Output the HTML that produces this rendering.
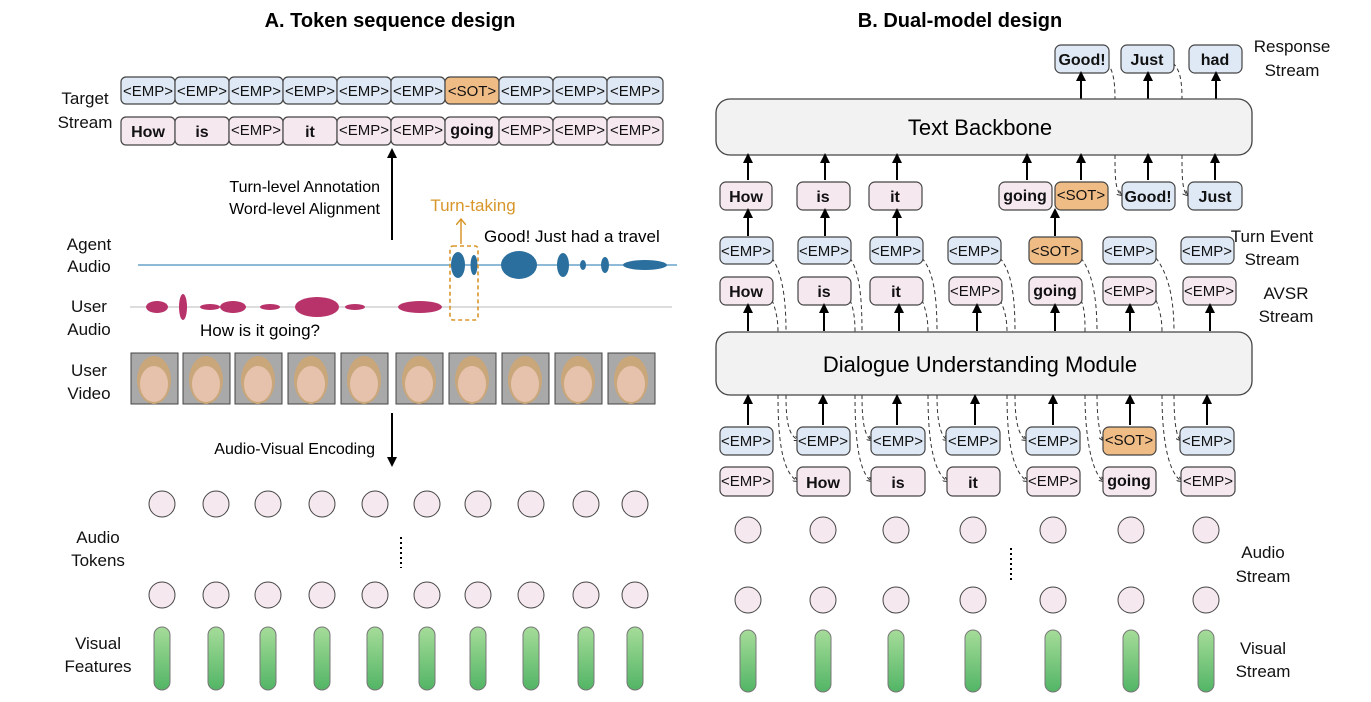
<!DOCTYPE html>
<html><head><meta charset="utf-8"><style>
html,body{margin:0;padding:0;background:#fff}
svg{display:block;font-family:"Liberation Sans",Arial,sans-serif}
.b{fill:#dfe9f5;stroke:#444;stroke-width:1.2}
.p{fill:#f6e8ef;stroke:#444;stroke-width:1.2}
.o{fill:#f0bc86;stroke:#444;stroke-width:1.2}
.t{font-size:15px;text-anchor:middle;fill:#111}
.tb{font-size:16px;font-weight:bold;text-anchor:middle;fill:#111}
.l{font-size:17px;fill:#111;text-anchor:middle}
.c{fill:#f6e8ef;stroke:#444;stroke-width:1}
.g{fill:url(#gr);stroke:#777;stroke-width:1}
.d{fill:none;stroke:#333;stroke-width:1;stroke-dasharray:4 3}
.a{stroke:#000;stroke-width:2;marker-end:url(#ar)}
.h{fill:#c9a77a}
.f{fill:#e6c2ad}
</style></head><body>
<svg width="1371" height="702" viewBox="0 0 1371 702">
<defs>
<marker id="ar" markerWidth="10" markerHeight="10" refX="5" refY="5" orient="auto" markerUnits="userSpaceOnUse" viewBox="0 0 10 10"><path d="M0,0 L10,5 L0,10z" fill="#000"/></marker>
<marker id="sa" markerWidth="5" markerHeight="5" refX="4" refY="2.5" orient="auto" markerUnits="userSpaceOnUse"><path d="M0,0 L5,2.5 L0,5" fill="none" stroke="#333"/></marker>
<marker id="oa" markerWidth="10" markerHeight="10" refX="5" refY="5" orient="auto" markerUnits="userSpaceOnUse"><path d="M0,0 L6,5 L0,10" fill="none" stroke="#d8962a" stroke-width="1.5"/></marker>
<linearGradient id="gr" x1="0" y1="0" x2="0" y2="1"><stop offset="0" stop-color="#a6dc9a"/><stop offset="1" stop-color="#52b565"/></linearGradient>
</defs>

<text x="390" y="27" font-size="20" font-weight="bold" text-anchor="middle">A. Token sequence design</text>
<text x="960" y="27" font-size="20" font-weight="bold" text-anchor="middle">B. Dual-model design</text>

<text x="85" y="104" class="l">Target</text><text x="85" y="128" class="l">Stream</text>
<g>
<rect x="121" y="77" width="54" height="27" rx="5" class="b"/><text x="148" y="96" class="t">&lt;EMP&gt;</text>
<rect x="175" y="77" width="54" height="27" rx="5" class="b"/><text x="202" y="96" class="t">&lt;EMP&gt;</text>
<rect x="229" y="77" width="54" height="27" rx="5" class="b"/><text x="256" y="96" class="t">&lt;EMP&gt;</text>
<rect x="283" y="77" width="54" height="27" rx="5" class="b"/><text x="310" y="96" class="t">&lt;EMP&gt;</text>
<rect x="337" y="77" width="54" height="27" rx="5" class="b"/><text x="364" y="96" class="t">&lt;EMP&gt;</text>
<rect x="391" y="77" width="54" height="27" rx="5" class="b"/><text x="418" y="96" class="t">&lt;EMP&gt;</text>
<rect x="445" y="77" width="54" height="27" rx="5" class="o"/><text x="472" y="96" class="t">&lt;SOT&gt;</text>
<rect x="499" y="77" width="54" height="27" rx="5" class="b"/><text x="526" y="96" class="t">&lt;EMP&gt;</text>
<rect x="553" y="77" width="54" height="27" rx="5" class="b"/><text x="580" y="96" class="t">&lt;EMP&gt;</text>
<rect x="607" y="77" width="56" height="27" rx="5" class="b"/><text x="635" y="96" class="t">&lt;EMP&gt;</text>

<rect x="121" y="117" width="54" height="28" rx="5" class="p"/><text x="148" y="137" class="tb">How</text>
<rect x="175" y="117" width="54" height="28" rx="5" class="p"/><text x="202" y="137" class="tb">is</text>
<rect x="229" y="117" width="54" height="28" rx="5" class="p"/><text x="256" y="135" class="t">&lt;EMP&gt;</text>
<rect x="283" y="117" width="54" height="28" rx="5" class="p"/><text x="310" y="137" class="tb">it</text>
<rect x="337" y="117" width="54" height="28" rx="5" class="p"/><text x="364" y="135" class="t">&lt;EMP&gt;</text>
<rect x="391" y="117" width="54" height="28" rx="5" class="p"/><text x="418" y="135" class="t">&lt;EMP&gt;</text>
<rect x="445" y="117" width="54" height="28" rx="5" class="p"/><text x="472" y="135" class="tb">going</text>
<rect x="499" y="117" width="54" height="28" rx="5" class="p"/><text x="526" y="135" class="t">&lt;EMP&gt;</text>
<rect x="553" y="117" width="54" height="28" rx="5" class="p"/><text x="580" y="135" class="t">&lt;EMP&gt;</text>
<rect x="607" y="117" width="56" height="28" rx="5" class="p"/><text x="635" y="135" class="t">&lt;EMP&gt;</text>
</g>
<line x1="392" y1="240" x2="392" y2="153" class="a"/>
<text x="380" y="192" font-size="16" text-anchor="end">Turn-level Annotation</text>
<text x="380" y="214" font-size="16" text-anchor="end">Word-level Alignment</text>
<text x="473" y="211" font-size="17" fill="#d8962a" text-anchor="middle">Turn-taking</text>
<line x1="461" y1="244" x2="461" y2="220" stroke="#d8962a" stroke-width="1.5" marker-end="url(#oa)"/>
<text x="484" y="242" font-size="17">Good! Just had a travel</text>

<text x="89" y="250" class="l">Agent</text><text x="89" y="272" class="l">Audio</text>
<text x="89" y="312" class="l">User</text><text x="89" y="335" class="l">Audio</text>
<line x1="138" y1="265" x2="677" y2="265" stroke="#4a90c0" stroke-width="1.2"/>
<g fill="#2a6f9e">
<ellipse cx="458" cy="265" rx="7" ry="13"/><ellipse cx="474" cy="265" rx="3.5" ry="10"/>
<ellipse cx="519" cy="265" rx="18" ry="14"/><ellipse cx="563" cy="265" rx="6" ry="12"/>
<ellipse cx="583" cy="265" rx="3" ry="5"/><ellipse cx="605" cy="265" rx="4" ry="8"/>
<ellipse cx="645" cy="265" rx="22" ry="5"/></g>
<line x1="130" y1="307" x2="672" y2="307" stroke="#bbb" stroke-width="1"/>
<g fill="#b8336a">
<ellipse cx="157" cy="307" rx="11" ry="6"/><ellipse cx="183" cy="307" rx="4" ry="13"/>
<ellipse cx="210" cy="307" rx="10" ry="3"/><ellipse cx="233" cy="307" rx="13" ry="6"/>
<ellipse cx="270" cy="307" rx="10" ry="3"/><ellipse cx="317" cy="307" rx="22" ry="10"/>
<ellipse cx="355" cy="307" rx="10" ry="3"/><ellipse cx="420" cy="307" rx="22" ry="6"/></g>
<rect x="450" y="246" width="28" height="74" fill="none" stroke="#d8962a" stroke-width="1.6" stroke-dasharray="4 3" rx="3"/>
<text x="200" y="336" font-size="17">How is it going?</text>

<text x="89" y="376" class="l">User</text><text x="89" y="399" class="l">Video</text>
<g stroke="#444">
<rect x="131" y="353" width="47" height="51" fill="#a9a9a9"/><rect x="183" y="353" width="47" height="51" fill="#a9a9a9"/><rect x="235" y="353" width="47" height="51" fill="#a9a9a9"/><rect x="288" y="353" width="47" height="51" fill="#a9a9a9"/><rect x="341" y="353" width="47" height="51" fill="#a9a9a9"/><rect x="396" y="353" width="47" height="51" fill="#a9a9a9"/><rect x="449" y="353" width="47" height="51" fill="#a9a9a9"/><rect x="502" y="353" width="47" height="51" fill="#a9a9a9"/><rect x="555" y="353" width="47" height="51" fill="#a9a9a9"/><rect x="608" y="353" width="47" height="51" fill="#a9a9a9"/>
</g>
<g>
<ellipse cx="154" cy="380" rx="17" ry="24" class="h"/><ellipse cx="154" cy="384" rx="14" ry="18" class="f"/>
<ellipse cx="206" cy="380" rx="17" ry="24" class="h"/><ellipse cx="206" cy="384" rx="14" ry="18" class="f"/>
<ellipse cx="258" cy="380" rx="17" ry="24" class="h"/><ellipse cx="258" cy="384" rx="14" ry="18" class="f"/>
<ellipse cx="311" cy="380" rx="17" ry="24" class="h"/><ellipse cx="311" cy="384" rx="14" ry="18" class="f"/>
<ellipse cx="364" cy="380" rx="17" ry="24" class="h"/><ellipse cx="364" cy="384" rx="14" ry="18" class="f"/>
<ellipse cx="419" cy="380" rx="17" ry="24" class="h"/><ellipse cx="419" cy="384" rx="14" ry="18" class="f"/>
<ellipse cx="472" cy="380" rx="17" ry="24" class="h"/><ellipse cx="472" cy="384" rx="14" ry="18" class="f"/>
<ellipse cx="525" cy="380" rx="17" ry="24" class="h"/><ellipse cx="525" cy="384" rx="14" ry="18" class="f"/>
<ellipse cx="578" cy="380" rx="17" ry="24" class="h"/><ellipse cx="578" cy="384" rx="14" ry="18" class="f"/>
<ellipse cx="631" cy="380" rx="17" ry="24" class="h"/><ellipse cx="631" cy="384" rx="14" ry="18" class="f"/>
</g>
<line x1="392" y1="413" x2="392" y2="462" class="a"/>
<text x="375" y="454" font-size="16" text-anchor="end">Audio-Visual Encoding</text>

<text x="98" y="543" class="l">Audio</text><text x="98" y="566" class="l">Tokens</text>
<text x="98" y="649" class="l">Visual</text><text x="98" y="672" class="l">Features</text>
<g>
<circle cx="162" cy="504" r="13" class="c"/><circle cx="216" cy="504" r="13" class="c"/><circle cx="268" cy="504" r="13" class="c"/><circle cx="322" cy="504" r="13" class="c"/><circle cx="375" cy="504" r="13" class="c"/><circle cx="427" cy="504" r="13" class="c"/><circle cx="478" cy="504" r="13" class="c"/><circle cx="531" cy="504" r="13" class="c"/><circle cx="586" cy="504" r="13" class="c"/><circle cx="635" cy="504" r="13" class="c"/>
<circle cx="162" cy="595" r="13" class="c"/><circle cx="216" cy="595" r="13" class="c"/><circle cx="268" cy="595" r="13" class="c"/><circle cx="322" cy="595" r="13" class="c"/><circle cx="375" cy="595" r="13" class="c"/><circle cx="427" cy="595" r="13" class="c"/><circle cx="478" cy="595" r="13" class="c"/><circle cx="531" cy="595" r="13" class="c"/><circle cx="586" cy="595" r="13" class="c"/><circle cx="635" cy="595" r="13" class="c"/>
<rect x="154" y="627" width="16" height="63" rx="8" class="g"/><rect x="208" y="627" width="16" height="63" rx="8" class="g"/><rect x="260" y="627" width="16" height="63" rx="8" class="g"/><rect x="314" y="627" width="16" height="63" rx="8" class="g"/><rect x="367" y="627" width="16" height="63" rx="8" class="g"/><rect x="419" y="627" width="16" height="63" rx="8" class="g"/><rect x="470" y="627" width="16" height="63" rx="8" class="g"/><rect x="523" y="627" width="16" height="63" rx="8" class="g"/><rect x="578" y="627" width="16" height="63" rx="8" class="g"/><rect x="627" y="627" width="16" height="63" rx="8" class="g"/>
</g>
<line x1="401" y1="537" x2="401" y2="568" stroke="#000" stroke-width="2" stroke-dasharray="2 3"/>

<text x="1292" y="52" class="l">Response</text><text x="1292" y="76" class="l">Stream</text>
<text x="1272" y="242" class="l">Turn Event</text><text x="1272" y="265" class="l">Stream</text>
<text x="1286" y="299" class="l">AVSR</text><text x="1286" y="322" class="l">Stream</text>
<text x="1263" y="558" class="l">Audio</text><text x="1263" y="582" class="l">Stream</text>
<text x="1263" y="654" class="l">Visual</text><text x="1263" y="677" class="l">Stream</text>

<g class="d">
<path d="M1107,63 C1113,70 1115,80 1115,100"/><path d="M1115,155 C1115,175 1115,190 1121,195" marker-end="url(#sa)"/>
<path d="M1173,63 C1180,70 1182,80 1182,100"/><path d="M1182,155 C1182,175 1182,190 1187,195" marker-end="url(#sa)"/>
<path d="M772,258 C780,270 786,290 786,332"/><path d="M786,395 C786,420 788,435 798,440" marker-end="url(#sa)"/>
<path d="M772,300 C776,310 778,320 778,332"/><path d="M778,395 C778,430 780,470 797,481" marker-end="url(#sa)"/>
<path d="M850,258 C858,270 862,290 862,332"/><path d="M862,395 C862,420 864,435 871,440" marker-end="url(#sa)"/>
<path d="M850,300 C854,310 855,320 855,332"/><path d="M855,395 C855,430 857,470 871,481" marker-end="url(#sa)"/>
<path d="M922,258 C932,270 937,290 937,332"/><path d="M937,395 C937,420 940,435 947,440" marker-end="url(#sa)"/>
<path d="M922,300 C926,310 928,320 928,332"/><path d="M928,395 C928,430 931,470 947,481" marker-end="url(#sa)"/>
<path d="M1000,258 C1010,270 1015,290 1015,332"/><path d="M1015,395 C1015,420 1018,435 1026,440" marker-end="url(#sa)"/>
<path d="M1000,300 C1005,310 1007,320 1007,332"/><path d="M1007,395 C1007,430 1010,470 1027,481" marker-end="url(#sa)"/>
<path d="M1081,258 C1090,270 1097,290 1097,332"/><path d="M1097,395 C1097,420 1100,435 1103,440" marker-end="url(#sa)"/>
<path d="M1081,300 C1085,310 1085,320 1085,332"/><path d="M1085,395 C1085,430 1090,470 1103,481" marker-end="url(#sa)"/>
<path d="M1156,258 C1165,270 1174,290 1174,332"/><path d="M1174,395 C1174,420 1176,435 1180,440" marker-end="url(#sa)"/>
<path d="M1156,300 C1160,310 1162,320 1162,332"/><path d="M1162,395 C1162,430 1166,470 1181,481" marker-end="url(#sa)"/>
</g>

<rect x="1055" y="45" width="54" height="28" rx="6" class="b"/><text x="1082" y="65" class="tb">Good!</text>
<rect x="1121" y="45" width="53" height="28" rx="6" class="b"/><text x="1147" y="65" class="tb">Just</text>
<rect x="1189" y="45" width="53" height="28" rx="6" class="b"/><text x="1215" y="65" class="tb">had</text>
<line x1="1081" y1="99" x2="1081" y2="76" class="a"/><line x1="1148" y1="99" x2="1148" y2="76" class="a"/><line x1="1216" y1="99" x2="1216" y2="76" class="a"/>

<rect x="716" y="99" width="536" height="56" rx="14" fill="#f2f2f2" stroke="#444" stroke-width="1.3"/>
<text x="980" y="135" font-size="22" text-anchor="middle">Text Backbone</text>

<g>
<rect x="720" y="182" width="52" height="28" rx="6" class="p"/><text x="746" y="202" class="tb">How</text>
<rect x="797" y="182" width="53" height="28" rx="6" class="p"/><text x="823" y="202" class="tb">is</text>
<rect x="869" y="182" width="53" height="28" rx="6" class="p"/><text x="895" y="202" class="tb">it</text>
<rect x="999" y="182" width="53" height="28" rx="6" class="p"/><text x="1025" y="201" class="tb">going</text>
<rect x="1055" y="182" width="53" height="28" rx="6" class="o"/><text x="1081" y="200" class="t">&lt;SOT&gt;</text>
<rect x="1122" y="182" width="53" height="28" rx="6" class="b"/><text x="1148" y="202" class="tb">Good!</text>
<rect x="1188" y="182" width="54" height="28" rx="6" class="b"/><text x="1215" y="202" class="tb">Just</text>
</g>
<line x1="748" y1="180" x2="748" y2="158" class="a"/><line x1="825" y1="180" x2="825" y2="158" class="a"/><line x1="897" y1="180" x2="897" y2="158" class="a"/><line x1="1027" y1="180" x2="1027" y2="158" class="a"/><line x1="1081" y1="180" x2="1081" y2="158" class="a"/><line x1="1148" y1="180" x2="1148" y2="158" class="a"/><line x1="1215" y1="180" x2="1215" y2="158" class="a"/>

<g>
<rect x="720" y="237" width="53" height="27" rx="6" class="b"/><text x="746" y="256" class="t">&lt;EMP&gt;</text>
<rect x="798" y="237" width="53" height="27" rx="6" class="b"/><text x="824" y="256" class="t">&lt;EMP&gt;</text>
<rect x="870" y="237" width="53" height="27" rx="6" class="b"/><text x="896" y="256" class="t">&lt;EMP&gt;</text>
<rect x="948" y="237" width="53" height="27" rx="6" class="b"/><text x="974" y="256" class="t">&lt;EMP&gt;</text>
<rect x="1029" y="237" width="53" height="27" rx="6" class="o"/><text x="1055" y="256" class="t">&lt;SOT&gt;</text>
<rect x="1103" y="237" width="53" height="27" rx="6" class="b"/><text x="1129" y="256" class="t">&lt;EMP&gt;</text>
<rect x="1181" y="237" width="53" height="27" rx="6" class="b"/><text x="1207" y="256" class="t">&lt;EMP&gt;</text>
</g>
<line x1="748" y1="236" x2="748" y2="213" class="a"/><line x1="825" y1="236" x2="825" y2="213" class="a"/><line x1="897" y1="236" x2="897" y2="213" class="a"/><line x1="1055" y1="236" x2="1055" y2="213" class="a"/>

<g>
<rect x="720" y="277" width="53" height="28" rx="6" class="p"/><text x="746" y="297" class="tb">How</text>
<rect x="798" y="277" width="53" height="28" rx="6" class="p"/><text x="824" y="297" class="tb">is</text>
<rect x="870" y="277" width="53" height="28" rx="6" class="p"/><text x="896" y="297" class="tb">it</text>
<rect x="949" y="277" width="53" height="28" rx="6" class="p"/><text x="975" y="296" class="t">&lt;EMP&gt;</text>
<rect x="1029" y="277" width="53" height="28" rx="6" class="p"/><text x="1055" y="296" class="tb">going</text>
<rect x="1103" y="277" width="53" height="28" rx="6" class="p"/><text x="1129" y="296" class="t">&lt;EMP&gt;</text>
<rect x="1183" y="277" width="53" height="28" rx="6" class="p"/><text x="1209" y="296" class="t">&lt;EMP&gt;</text>
</g>
<line x1="748" y1="331" x2="748" y2="308" class="a"/><line x1="824" y1="331" x2="824" y2="308" class="a"/><line x1="899" y1="331" x2="899" y2="308" class="a"/><line x1="977" y1="331" x2="977" y2="308" class="a"/><line x1="1055" y1="331" x2="1055" y2="308" class="a"/><line x1="1130" y1="331" x2="1130" y2="308" class="a"/><line x1="1210" y1="331" x2="1210" y2="308" class="a"/>

<rect x="716" y="332" width="536" height="63" rx="14" fill="#f2f2f2" stroke="#444" stroke-width="1.3"/>
<text x="980" y="372" font-size="22" text-anchor="middle">Dialogue Understanding Module</text>

<line x1="748" y1="425" x2="748" y2="399" class="a"/><line x1="823" y1="425" x2="823" y2="399" class="a"/><line x1="897" y1="425" x2="897" y2="399" class="a"/><line x1="975" y1="425" x2="975" y2="399" class="a"/><line x1="1053" y1="425" x2="1053" y2="399" class="a"/><line x1="1130" y1="425" x2="1130" y2="399" class="a"/><line x1="1207" y1="425" x2="1207" y2="399" class="a"/>
<g>
<rect x="720" y="427" width="53" height="28" rx="6" class="b"/><text x="746" y="446" class="t">&lt;EMP&gt;</text>
<rect x="797" y="427" width="53" height="28" rx="6" class="b"/><text x="823" y="446" class="t">&lt;EMP&gt;</text>
<rect x="871" y="427" width="54" height="28" rx="6" class="b"/><text x="898" y="446" class="t">&lt;EMP&gt;</text>
<rect x="946" y="427" width="54" height="28" rx="6" class="b"/><text x="973" y="446" class="t">&lt;EMP&gt;</text>
<rect x="1026" y="427" width="54" height="28" rx="6" class="b"/><text x="1053" y="446" class="t">&lt;EMP&gt;</text>
<rect x="1103" y="427" width="53" height="28" rx="6" class="o"/><text x="1129" y="445" class="t">&lt;SOT&gt;</text>
<rect x="1180" y="427" width="54" height="28" rx="6" class="b"/><text x="1207" y="446" class="t">&lt;EMP&gt;</text>

<rect x="720" y="467" width="53" height="29" rx="6" class="p"/><text x="746" y="486" class="t">&lt;EMP&gt;</text>
<rect x="797" y="467" width="53" height="29" rx="6" class="p"/><text x="823" y="488" class="tb">How</text>
<rect x="871" y="467" width="54" height="29" rx="6" class="p"/><text x="898" y="488" class="tb">is</text>
<rect x="947" y="467" width="53" height="29" rx="6" class="p"/><text x="973" y="488" class="tb">it</text>
<rect x="1027" y="467" width="53" height="29" rx="6" class="p"/><text x="1053" y="486" class="t">&lt;EMP&gt;</text>
<rect x="1103" y="467" width="53" height="29" rx="6" class="p"/><text x="1129" y="486" class="tb">going</text>
<rect x="1181" y="467" width="54" height="29" rx="6" class="p"/><text x="1208" y="486" class="t">&lt;EMP&gt;</text>
</g>

<g>
<circle cx="748" cy="530" r="13" class="c"/><circle cx="823" cy="530" r="13" class="c"/><circle cx="896" cy="530" r="13" class="c"/><circle cx="973" cy="530" r="13" class="c"/><circle cx="1053" cy="530" r="13" class="c"/><circle cx="1131" cy="530" r="13" class="c"/><circle cx="1206" cy="530" r="13" class="c"/>
<circle cx="748" cy="600" r="13" class="c"/><circle cx="823" cy="600" r="13" class="c"/><circle cx="896" cy="600" r="13" class="c"/><circle cx="973" cy="600" r="13" class="c"/><circle cx="1053" cy="600" r="13" class="c"/><circle cx="1131" cy="600" r="13" class="c"/><circle cx="1206" cy="600" r="13" class="c"/>
<rect x="740" y="630" width="16" height="62" rx="8" class="g"/><rect x="815" y="630" width="16" height="62" rx="8" class="g"/><rect x="888" y="630" width="16" height="62" rx="8" class="g"/><rect x="965" y="630" width="16" height="62" rx="8" class="g"/><rect x="1045" y="630" width="16" height="62" rx="8" class="g"/><rect x="1123" y="630" width="16" height="62" rx="8" class="g"/><rect x="1198" y="630" width="16" height="62" rx="8" class="g"/>
</g>
<line x1="1011" y1="548" x2="1011" y2="580" stroke="#000" stroke-width="2" stroke-dasharray="2 3"/>
</svg>
</body></html>
